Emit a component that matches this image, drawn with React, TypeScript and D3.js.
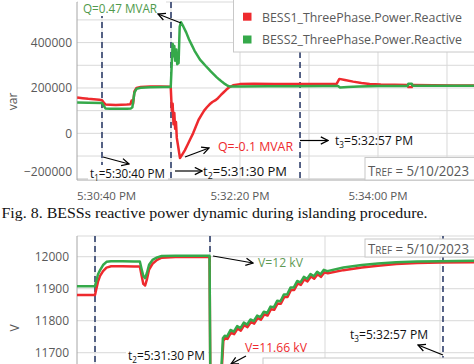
import React from 'react';
import * as d3 from 'd3';

// ---- time base: seconds after 5:30:00 PM on 5/10/2023 ----
const BASE = new Date(2023, 4, 10, 17, 30, 0).getTime();
const toDate = (s: number) => new Date(BASE + s * 1000);

// ---- Top chart: reactive power (var) ----
const bess1TopT = [22, 26, 30, 34, 38, 40, 41, 42.5, 46, 50, 54, 58, 60.5, 61.5, 62.5, 63.5, 65, 68, 75, 82, 89.8, 90.6, 91.2, 91.8, 92.4, 93, 93.6, 94.2, 95, 96.5, 98, 100, 102, 104, 106, 108, 110, 112, 114, 116, 118, 120, 122, 124, 126, 128, 130, 132, 135, 140, 150, 165, 180, 200, 210, 212, 216, 222, 228, 234, 242, 252, 261.5, 262, 264.5, 265, 280, 295, 310];
const bess1TopQ = [158000, 155000, 152000, 150000, 148000, 146000, 138000, 127000, 126000, 125000, 126000, 127000, 128000, 145000, 130000, 185000, 200000, 204000, 206000, 206000, 205000, 100000, 130000, 40000, 90000, 20000, 50000, -20000, -50000, -109000, -95000, -75000, -50000, -25000, 0, 30000, 60000, 80000, 100000, 115000, 128000, 138000, 145000, 155000, 168000, 180000, 192000, 202000, 212000, 217000, 219000, 218000, 218000, 218000, 218000, 240000, 235000, 228000, 222000, 218000, 215000, 214000, 213000, 204000, 204000, 213000, 212000, 211000, 211000];

const bess2TopT = [22, 30, 40, 41, 42.5, 46, 52, 58, 61, 62, 63.5, 65, 68, 75, 85, 89.8, 90.5, 91.2, 91.8, 92.4, 93, 93.8, 94.5, 95.5, 96.3, 97.2, 99, 101, 103, 105, 107, 109, 111, 113, 115, 117, 119, 121, 123, 125, 127, 129, 131, 133, 140, 160, 180, 200, 211, 212.5, 218, 226, 240, 261.5, 262, 264.5, 265, 285, 310];
const bess2TopQ = [136000, 135000, 134000, 124000, 110000, 108000, 108000, 108000, 110000, 115000, 180000, 196000, 201000, 203000, 204000, 204000, 300000, 395000, 340000, 385000, 320000, 370000, 305000, 310000, 470000, 490000, 470000, 445000, 415000, 390000, 365000, 345000, 325000, 312000, 298000, 285000, 272000, 260000, 248000, 237000, 227000, 218000, 210000, 206000, 207000, 208000, 208000, 209000, 209000, 202000, 204000, 207000, 209000, 209000, 219000, 219000, 210000, 210000, 210000];

const topYTicks = [-200000, 0, 200000, 400000];
const topYGrid = [-200000, -100000, 0, 100000, 200000, 300000, 400000, 500000];
const topXGrid = [40, 90, 140, 190, 240, 290];
const topXLabels = [40, 140, 240];
const topMarkers = [40, 90, 183.5];

// ---- Bottom chart: voltage (V) ----
const bess1BotT = [32, 40, 40.6, 41.3, 42.2, 43.5, 45, 47, 52, 57, 59.5, 60.3, 61, 61.8, 62.6, 63.5, 65, 67, 69, 75, 85, 89.8, 90.1, 95.2, 95.8, 96.6, 97.6, 99.1, 100.5, 102, 103.4, 104.9, 106.3, 107.8, 109.2, 110.7, 112.1, 113.6, 115, 116.5, 117.9, 119.4, 120.8, 122.3, 123.7, 125.2, 126.6, 128.1, 129.5, 131, 132.4, 133.9, 135.3, 136.8, 138.2, 139.7, 141.2, 148, 156, 163, 171, 180, 190, 205];
const bess1BotV = [11880, 11880, 11900, 11922, 11940, 11955, 11966, 11970, 11970, 11969, 11969, 11940, 11915, 11910, 11930, 11960, 11978, 11990, 11997, 11999, 11999, 11999, 11660, 11660, 11737, 11746, 11743, 11763, 11758, 11775, 11769, 11786, 11780, 11796, 11791, 11808, 11803, 11820, 11816, 11836, 11834, 11854, 11853, 11874, 11874, 11896, 11896, 11916, 11912, 11929, 11923, 11938, 11931, 11945, 11937, 11951, 11948, 11958, 11966, 11972, 11977, 11980, 11982, 11983];

const bess2BotT = [32, 40, 40.6, 41.3, 42.2, 43.5, 45, 47, 52, 57, 59.5, 60.3, 61, 61.8, 62.6, 63.5, 65, 67, 69, 75, 85, 89.8, 90.1, 95, 95.6, 96.4, 97.45, 98.9, 100.35, 101.8, 103.25, 104.7, 106.15, 107.6, 109.05, 110.5, 111.95, 113.4, 114.85, 116.3, 117.75, 119.2, 120.65, 122.1, 123.55, 125, 126.45, 127.9, 129.35, 130.8, 132.25, 133.7, 135.15, 136.6, 138.05, 139.5, 141, 148, 156, 163, 171, 180, 190, 205];
const bess2BotV = [11908, 11908, 11925, 11945, 11958, 11974, 11984, 11986, 11986, 11985, 11985, 11960, 11940, 11933, 11950, 11975, 11990, 11998, 12002, 12003, 12003, 12003, 11660, 11660, 11745, 11753, 11751, 11771, 11766, 11783, 11777, 11794, 11788, 11804, 11799, 11816, 11811, 11828, 11824, 11844, 11842, 11862, 11861, 11882, 11882, 11904, 11904, 11924, 11920, 11937, 11931, 11946, 11939, 11953, 11945, 11959, 11955, 11966, 11974, 11979, 11983, 11985, 11986, 11987];

const botYTicks = [11700, 11800, 11900, 12000];
const botXGrid = [40, 90, 140, 190];
const botMarkers = [40, 90, 191.3];

const seriesNames = ['BESS1_ThreePhase.Power.Reactive', 'BESS2_ThreePhase.Power.Reactive'];
const RED = '#ee2a2e';
const GREEN = '#35a94a';
const GRID = '#d9d9d9';
const AXIS = '#a6a6a6';
const DASH = '#2f3f6b';
const TXT = '#595959';
const FONT = "'Open Sans', sans-serif";
const SERIF = "'Liberation Serif', 'Times New Roman', serif";

const zip = (t: number[], v: number[]) => t.map((s, i) => ({ d: toDate(s), v: v[i] }));

export default function App() {
  const W = 474, H = 364;
  // top chart frame
  const tL = 77, tR = 474, tT = 2, tB = 180;
  const xTop = d3.scaleTime().domain([toDate(21.88), toDate(309.57)]).range([tL, tR]);
  const yTop = d3.scaleLinear().domain([-205700, 579000]).range([tB, tT]);
  // bottom chart frame
  const bL = 77, bR = 474, bT = 236, bB = 380;
  const xBot = d3.scaleTime().domain([toDate(32.17), toDate(204.78)]).range([bL, bR]);
  const yBot = d3.scaleLinear().domain([11614.7, 12064.7]).range([bB, bT]);

  const lineTop = d3.line<{ d: Date; v: number }>().x(p => xTop(p.d)).y(p => yTop(p.v));
  const lineBot = d3.line<{ d: Date; v: number }>().x(p => xBot(p.d)).y(p => yBot(p.v));
  const fmt = d3.timeFormat('%-I:%M:%S %p');
  const fmtNum = d3.format('d');

  const r1 = zip(bess1TopT, bess1TopQ), g1 = zip(bess2TopT, bess2TopQ);
  const r2 = zip(bess1BotT, bess1BotV), g2 = zip(bess2BotT, bess2BotV);

  const arrow = (x1: number, y1: number, x2: number, y2: number) => (
    <line x1={x1} y1={y1} x2={x2} y2={y2} stroke="#000" strokeWidth={1.2} markerEnd="url(#ah)" />
  );
  const tLabel = (x: number, y: number, sub: string, rest: string, len: number) => (
    <text x={x} y={y} fontFamily={FONT} fontSize={12.5} fill="#111" textLength={len} lengthAdjust="spacingAndGlyphs">
      t<tspan fontSize={8.5} dy={3}>{sub}</tspan><tspan dy={-3}>{rest}</tspan>
    </text>
  );
  const tref = (x: number, y: number) => (
    <text x={x} y={y} fontFamily={FONT} fontSize={14} fill={TXT} textLength={101} lengthAdjust="spacingAndGlyphs">
      T<tspan fontSize={10.5}>REF</tspan><tspan> = 5/10/2023</tspan>
    </text>
  );

  return (
    <div style={{ width: W, height: H }}>
      <style>{'body{margin:0}'}</style>
      <svg width={W} height={H} style={{ display: 'block', background: '#fff' }}>
        <defs>
          <marker id="ah" viewBox="0 0 10 10" refX={9} refY={5} markerWidth={9} markerHeight={9} markerUnits="userSpaceOnUse" orient="auto">
            <path d="M1,1 L9,5 L1,9" fill="none" stroke="#000" strokeWidth={1.4} />
          </marker>
          <clipPath id="clipTop"><rect x={tL} y={tT} width={tR - tL} height={tB - tT} /></clipPath>
          <clipPath id="clipBot"><rect x={bL} y={bT} width={bR - bL} height={bB - bT} /></clipPath>
        </defs>

        {/* ===== TOP CHART ===== */}
        <g>
          <line x1={tL} x2={tR} y1={tT} y2={tT} stroke={GRID} />
          {topYGrid.map(v => (
            <line key={v} x1={tL} x2={tR} y1={yTop(v)} y2={yTop(v)} stroke={GRID} />
          ))}
          {topXGrid.map(s => (
            <line key={s} x1={xTop(toDate(s))} x2={xTop(toDate(s))} y1={tT} y2={tB} stroke={GRID} />
          ))}
          <line x1={tL} x2={tL} y1={tT} y2={tB} stroke={AXIS} />
          <line x1={tL} x2={tR} y1={tB} y2={tB} stroke={AXIS} />
          {topYTicks.map(v => (
            <text key={v} x={72} y={yTop(v) - (v === -200000 ? 7 : 0)} textAnchor="end" dominantBaseline="central" fontFamily={FONT} fontSize={12} fill={TXT}>{fmtNum(v)}</text>
          ))}
          {topXLabels.map((s, i) => (
            <text key={s} x={i === 0 ? tL : xTop(toDate(s))} y={199.5} textAnchor={i === 0 ? 'start' : 'middle'} fontFamily={FONT} fontSize={11.5} fill={TXT}>{fmt(toDate(s))}</text>
          ))}
          <text transform="translate(17,101.5) rotate(-90)" textAnchor="middle" fontFamily={FONT} fontSize={12} fill={TXT}>var</text>
          {topMarkers.map(s => (
            <line key={s} x1={xTop(toDate(s))} x2={xTop(toDate(s))} y1={tT} y2={tB} stroke={DASH} strokeWidth={1.6} strokeDasharray="6,4" />
          ))}
          <g clipPath="url(#clipTop)">
            <path d={lineTop(r1) || ''} fill="none" stroke={RED} strokeWidth={2.5} strokeLinejoin="round" />
            <path d={lineTop(g1) || ''} fill="none" stroke={GREEN} strokeWidth={2.5} strokeLinejoin="round" />
          </g>
          {/* annotations */}
          <rect x={78} y={0} width={88} height={16} fill="#fff" />
          <text x={83} y={12.5} fontFamily={FONT} fontSize={12} fill="#4f9a4c" textLength={74} lengthAdjust="spacingAndGlyphs">Q=0.47 MVAR</text>
          {arrow(181, 23, 158, 14)}
          <text x={218} y={151} fontFamily={FONT} fontSize={12} fill={RED} textLength={75} lengthAdjust="spacingAndGlyphs">Q=-0.1 MVAR</text>
          {arrow(185, 157, 209, 148)}
          <rect x={88} y={165} width={80} height={14.5} fill="#fff" />
          {tLabel(90, 177.5, '1', '=5:30:40 PM', 75)}
          {arrow(103, 157, 129, 164)}
          {tLabel(203, 175.5, '2', '=5:31:30 PM', 84)}
          {arrow(175, 171, 202, 171)}
          {tLabel(335, 144.5, '3', '=5:32:57 PM', 78)}
          {arrow(300, 140.5, 328, 140.5)}
          <rect x={365} y={157.5} width={120} height={22.5} fill="#fff" stroke="#c8c8c8" />
          {tref(368, 176)}
          {/* legend */}
          <rect x={233.5} y={-1} width={250} height={53} fill="#fff" stroke="#c8c8c8" />
          <rect x={243} y={12.7} width={8.5} height={8} fill={RED} />
          <rect x={243} y={35.5} width={8.5} height={8} fill={GREEN} />
          <text x={262} y={21.5} fontFamily={FONT} fontSize={12} fill={TXT} textLength={200} lengthAdjust="spacingAndGlyphs">{seriesNames[0]}</text>
          <text x={262} y={44.3} fontFamily={FONT} fontSize={12} fill={TXT} textLength={200} lengthAdjust="spacingAndGlyphs">{seriesNames[1]}</text>
        </g>

        {/* caption */}
        <text x={1.5} y={218} fontFamily={SERIF} fontSize={15} fill="#111" textLength={426} lengthAdjust="spacingAndGlyphs">Fig. 8. BESSs reactive power dynamic during islanding procedure.</text>

        {/* ===== BOTTOM CHART ===== */}
        <g>
          {botYTicks.map(v => (
            <line key={v} x1={bL} x2={bR} y1={yBot(v)} y2={yBot(v)} stroke={GRID} />
          ))}
          {botXGrid.map(s => (
            <line key={s} x1={xBot(toDate(s))} x2={xBot(toDate(s))} y1={bT} y2={bB} stroke={GRID} />
          ))}
          <line x1={bL} x2={bR} y1={bT} y2={bT} stroke={GRID} />
          <line x1={bL} x2={bL} y1={bT} y2={bB} stroke={AXIS} />
          {botYTicks.map(v => (
            <text key={v} x={69} y={yBot(v)} textAnchor="end" dominantBaseline="central" fontFamily={FONT} fontSize={12} fill={TXT}>{fmtNum(v)}</text>
          ))}
          <text transform="translate(19,328) rotate(-90)" textAnchor="middle" fontFamily={FONT} fontSize={12} fill={TXT}>V</text>
          {botMarkers.map(s => (
            <line key={s} x1={xBot(toDate(s))} x2={xBot(toDate(s))} y1={bT} y2={bB} stroke={DASH} strokeWidth={1.6} strokeDasharray="6,4" />
          ))}
          <g clipPath="url(#clipBot)">
            <path d={lineBot(r2) || ''} fill="none" stroke={RED} strokeWidth={2.5} strokeLinejoin="round" />
            <path d={lineBot(g2) || ''} fill="none" stroke={GREEN} strokeWidth={2.5} strokeLinejoin="round" />
          </g>
          <rect x={365} y={239} width={120} height={18} fill="#fff" stroke="#c8c8c8" />
          {tref(368, 253.5)}
          <text x={258} y={266.5} fontFamily={FONT} fontSize={12} fill="#5f9a55" textLength={45} lengthAdjust="spacingAndGlyphs">V=12 kV</text>
          {arrow(213, 256, 253, 263)}
          <text x={245} y={351.5} fontFamily={FONT} fontSize={12} fill={RED} textLength={62} lengthAdjust="spacingAndGlyphs">V=11.66 kV</text>
          {arrow(246, 356, 231, 364)}
          {tLabel(350, 338.5, '3', '=5:32:57 PM', 78)}
          {arrow(443, 355, 418, 345)}
          <rect x={126} y={350} width={82} height={14} fill="#fff" />
          {tLabel(128, 360, '2', '=5:31:30 PM', 77)}
          <rect x={263} y={358} width={230} height={20} fill="#fff" stroke="#c8c8c8" />
        </g>
      </svg>
    </div>
  );
}
